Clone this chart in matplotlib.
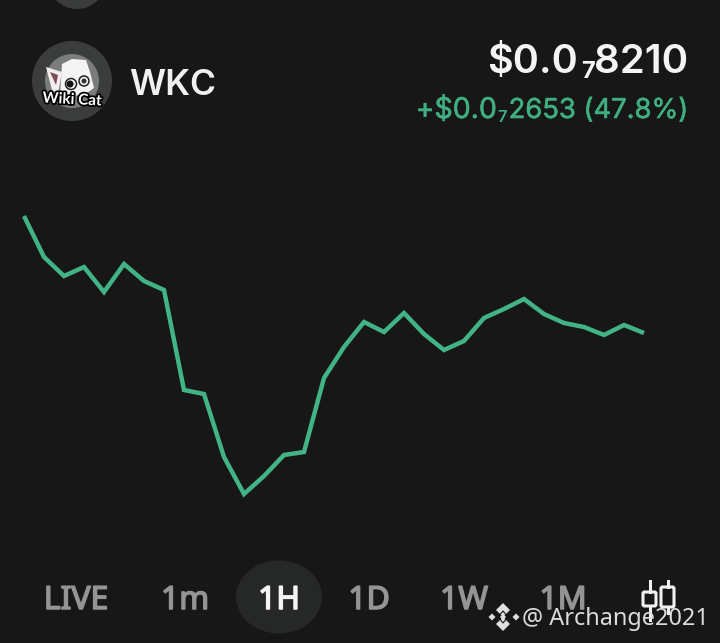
import matplotlib
matplotlib.use("Agg")
import matplotlib.pyplot as plt
import matplotlib.patheffects as pe
from matplotlib.patches import Circle, Ellipse, Polygon, FancyBboxPatch

plt.rcParams['font.family'] = ['Inter', 'DejaVu Sans']

BG = "#171717"
GREEN = "#41b386"
SOFT_GREEN = "#3fae80"

# price in units of 1e-10, one point per step
steps = list(range(32))
prices = [9380, 8970, 8780, 8870, 8620, 8900, 8730, 8640, 7640, 7600, 6970, 6600,
          6780, 6990, 7020, 7760, 8070, 8320, 8220, 8410, 8200, 8040, 8130, 8360,
          8450, 8550, 8400, 8310, 8270, 8190, 8290, 8210]

ranges = ["LIVE", "1m", "1H", "1D", "1W", "1M"]
range_x = [76, 185, 279, 369, 464, 563]
symbol = "WKC"


def thick(color, w):
    # the installed Noto Sans has no real bold, so fatten it with a stroke
    return [pe.withStroke(linewidth=w, foreground=color)]


fig = plt.figure(figsize=(7.2, 6.43), dpi=100, facecolor=BG)

# chart
ax = fig.add_axes([0, 0, 1, 1])
ax.set_facecolor(BG)
ax.plot(steps, prices, color=GREEN, lw=3.2, solid_joinstyle="miter", solid_capstyle="butt")
ax.set_xlim(-1.2, 34.8)
ax.set_ylim(5110, 11540)
ax.axis("off")

# app chrome, in pixels
ui = fig.add_axes([0, 0, 1, 1], zorder=2)
ui.set_xlim(0, 720)
ui.set_ylim(643, 0)
ui.axis("off")

# previous row's avatar, cut off by the top edge
ui.add_patch(Circle((77, -20), 29, color="#3a3c3b", lw=0))

# avatar
ui.add_patch(Circle((72, 81), 40, color="#3a3d3b", lw=0))
ui.add_patch(Circle((72, 81), 27, color="#7b7d7c", lw=0))
ui.add_patch(Polygon([(46, 67), (62, 72), (58, 94), (52, 90)], color="#f1eeee", lw=0))
ui.add_patch(Polygon([(50, 72), (58, 75), (56, 85)], color="#7d4a58", lw=0))
ui.add_patch(Polygon([(62, 64), (72, 59), (86, 60), (90, 72), (94, 88), (84, 95), (60, 96)], color="#f4f4f4", lw=0))
ui.add_patch(Circle((70, 84), 3.5, color="#111111", lw=0))
ui.add_patch(Circle((84, 81), 2.5, color="#333333", lw=0))
ui.add_patch(Circle((84, 81), 5, fc="none", ec="#222222", lw=1.1))
ui.add_patch(Circle((71, 84), 5.5, fc="none", ec="#222222", lw=1.1))
ui.text(72, 100, "Wiki Cat", color="white", fontsize=11, fontweight="bold", family="Lato",
        ha="center", va="center", rotation=-3,
        path_effects=[pe.withStroke(linewidth=2.5, foreground="black")])

ui.text(129, 95, symbol, color="#f1f1f1", fontsize=25.5, fontweight="semibold", ha="left", va="baseline")

# price
ui.text(578, 73, "$0.0", color="#f4f4f4", fontsize=28.5, fontweight="semibold", ha="right", va="baseline")
ui.text(587.5, 78, "7", color="#f4f4f4", fontsize=17, fontweight="bold", ha="center", va="baseline")
ui.text(688, 73, "8210", color="#f4f4f4", fontsize=29, fontweight="semibold", ha="right", va="baseline")

ui.text(497, 118, "+$0.0", color=SOFT_GREEN, fontsize=20.5, ha="right", va="baseline",
        path_effects=thick(SOFT_GREEN, 0.4))
ui.text(502, 122, "7", color=SOFT_GREEN, fontsize=12, fontweight="semibold", ha="center", va="baseline")
ui.text(688, 118, "2653 (47.8%)", color=SOFT_GREEN, fontsize=19.7, ha="right", va="baseline",
        path_effects=thick(SOFT_GREEN, 0.4))

# range buttons
ui.add_patch(Ellipse((279, 597), 86, 73, color="#262827", lw=0))
for label, x in zip(ranges, range_x):
    color = "#f4f4f4" if label == "1H" else "#949494"
    ui.text(x, 609, label, color=color, fontsize=23, family="Noto Sans",
            ha="center", va="baseline", path_effects=thick(color, 1.1))

# candle icon
for x0, w, y0, h, wick0, wick1 in [(643, 13, 592, 14, 581, 620), (661, 13, 587, 20, 581, 613)]:
    ui.plot([x0 + w / 2] * 2, [wick0, y0], color="#f0f0f0", lw=2.2)
    ui.plot([x0 + w / 2] * 2, [y0 + h, wick1], color="#f0f0f0", lw=2.2)
    ui.add_patch(FancyBboxPatch((x0, y0), w, h, boxstyle="round,pad=0,rounding_size=1.5",
                                fc="none", ec="#f0f0f0", lw=2.2))

# watermark
for cx, cy, r in [(503, 610, 7), (503, 624, 7), (492, 617, 3.5), (516, 617, 3.5), (503, 617, 3)]:
    ui.add_patch(Polygon([(cx, cy - r), (cx + r, cy), (cx, cy + r), (cx - r, cy)], color="#e0e0e0", lw=0))
ui.add_patch(Polygon([(503, 611), (498, 617), (503, 623), (508, 617)], fc="none", ec=BG, lw=0.8))
ui.text(522, 625, "@ Archange2021", color="#dcdcdc", fontsize=16.9, family="Noto Sans",
        ha="left", va="baseline")

fig.savefig("out.png", dpi=100, facecolor=BG)
